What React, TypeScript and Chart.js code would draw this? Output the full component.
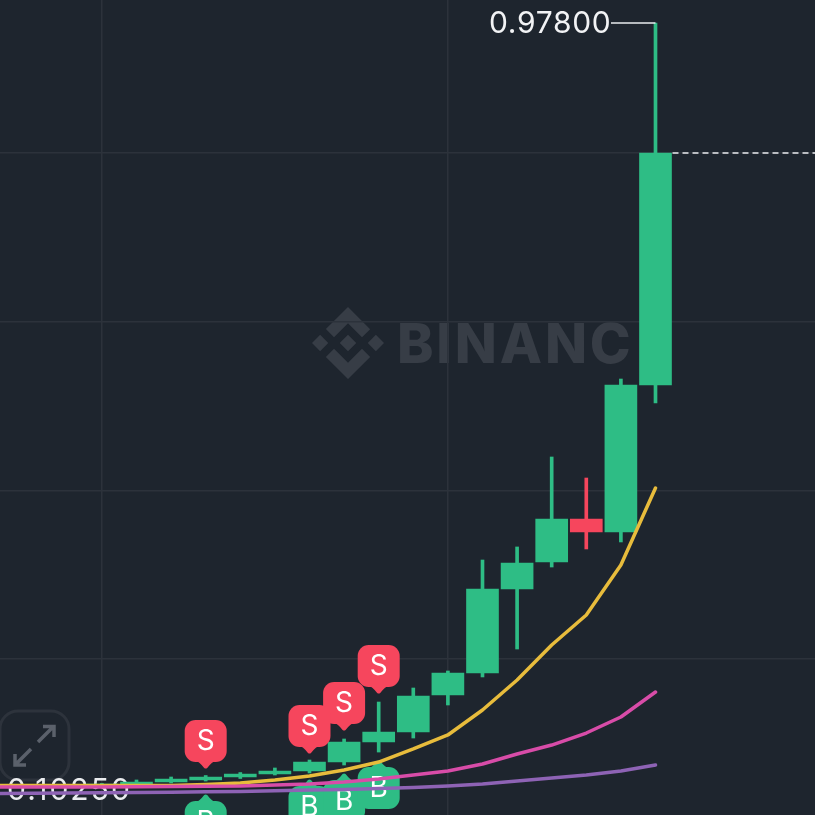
import React, { useEffect, useRef } from "react";
import { Chart, registerables } from "chart.js";

Chart.register(...registerables);

const candleIndex = [0, 1, 2, 3, 4, 5, 6, 7, 8, 9, 10, 11, 12, 13, 14, 15, 16];
const opens = [0.107, 0.1093, 0.1116, 0.1139, 0.1173, 0.1207, 0.1242, 0.1344, 0.1573, 0.1687, 0.2109, 0.236, 0.3319, 0.3627, 0.4118, 0.397, 0.5648];
const closes = [0.1093, 0.1116, 0.115, 0.1173, 0.1207, 0.1242, 0.1344, 0.1573, 0.1687, 0.2098, 0.236, 0.3319, 0.3616, 0.4118, 0.397, 0.5648, 0.8296];
const highs = [0.11, 0.1139, 0.1173, 0.119, 0.1224, 0.1276, 0.1367, 0.1607, 0.2029, 0.2189, 0.2383, 0.365, 0.3799, 0.4826, 0.4586, 0.5716, 0.978];
const lows = [0.106, 0.1082, 0.1105, 0.1127, 0.1156, 0.1196, 0.1219, 0.131, 0.1458, 0.1618, 0.1995, 0.2315, 0.2634, 0.357, 0.3776, 0.3856, 0.5442];

const maIndex = [-3, -2, -1, 0, 1, 2, 3, 4, 5, 6, 7, 8, 9, 10, 11, 12, 13, 14, 15, 16];
const maYellow = [0.1076, 0.1076, 0.1076, 0.1076, 0.1076, 0.1076, 0.1087, 0.1105, 0.1139, 0.1185, 0.1253, 0.1344, 0.1493, 0.1653, 0.1938, 0.228, 0.268, 0.3022, 0.3593, 0.4472];
const maPink = [0.1059, 0.1059, 0.1059, 0.1059, 0.1062, 0.1065, 0.1068, 0.107, 0.1082, 0.1093, 0.1116, 0.115, 0.1196, 0.1242, 0.1322, 0.1436, 0.1538, 0.1675, 0.1858, 0.2143];
const maPurple = [0.0985, 0.0988, 0.099, 0.0993, 0.0996, 0.1, 0.1004, 0.1008, 0.1015, 0.1025, 0.103, 0.1042, 0.1053, 0.107, 0.1093, 0.1127, 0.1162, 0.1196, 0.1242, 0.131];

const sellIndex = [8, 7, 6, 3];
const sellPrice = [0.2121, 0.1698, 0.1436, 0.1264];
const buyIndex = [3, 6, 7, 8];
const buyPrice = [0.0979, 0.115, 0.1219, 0.1367];

const gridPrices = [0.252, 0.4438, 0.6367, 0.8296];
const gridIndex = [0, 10];

const highLabel = "0.97800";
const lowLabel = "0.10250";
const lowPrice = 0.1025;
const watermark = "BINANC";

const BG = "#1E252E";
const GRID = "#2C323B";
const UP = "#2EBD85";
const DOWN = "#F6465D";
const WM = "#373D46";
const TEXT = "#EAECEF";
const FONT = "Inter, 'Noto Sans', sans-serif";

function marker(ctx: CanvasRenderingContext2D, x: number, tip: number, dir: number, color: string, letter: string) {
  // dir = 1: tip points down (box above tip); dir = -1: tip points up (box below tip)
  const w = 42, h = 42, r = 11, t = 7;
  const edge = tip - dir * t;
  const top = dir > 0 ? edge - h : edge;
  ctx.fillStyle = color;
  ctx.beginPath();
  ctx.roundRect(x - w / 2, top, w, h, r);
  ctx.fill();
  ctx.beginPath();
  ctx.moveTo(x - 11, edge - dir * 2);
  ctx.quadraticCurveTo(x - 6, edge, x - 1.5, tip - dir * 1);
  ctx.quadraticCurveTo(x, tip, x + 1.5, tip - dir * 1);
  ctx.quadraticCurveTo(x + 6, edge, x + 11, edge - dir * 2);
  ctx.closePath();
  ctx.fill();
  ctx.fillStyle = "#FFFFFF";
  ctx.font = `400 28px ${FONT}`;
  ctx.textAlign = "center";
  ctx.textBaseline = "middle";
  ctx.fillText(letter, x, top + h / 2 + 1);
}

const underlay = {
  id: "underlay",
  beforeDraw(chart: any) {
    const { ctx, width, height } = chart;
    ctx.save();
    ctx.fillStyle = BG;
    ctx.fillRect(0, 0, width, height);
    // watermark logo
    ctx.translate(312, 307);
    ctx.scale(0.5687, 0.5687);
    ctx.fillStyle = WM;
    ctx.fill(new Path2D("M38.73 53.2 63.31 28.62 87.9 53.21 102.2 38.91 63.31 0 24.43 38.9z"));
    ctx.fill(new Path2D("M0 63.31 14.3 49.01 28.6 63.31 14.3 77.61z"));
    ctx.fill(new Path2D("M38.73 73.42 63.31 98 87.9 73.41 102.21 87.7 63.31 126.61 24.43 87.72z"));
    ctx.fill(new Path2D("M112.31 49.01 126.61 63.31 112.31 77.61 98.01 63.31z"));
    ctx.fill(new Path2D("M77.81 63.3 63.31 48.8 52.6 59.52 51.36 60.75 48.82 63.3 63.31 77.78 77.81 63.31z"));
    ctx.restore();
    ctx.save();
    ctx.fillStyle = WM;
    ctx.font = `800 55px ${FONT}`;
    ctx.textAlign = "left";
    ctx.textBaseline = "alphabetic";
    (ctx as any).letterSpacing = "2.8px";
    ctx.fillText(watermark, 397, 363);
    ctx.restore();
  },
  beforeDatasetsDraw(chart: any) {
    const { ctx, scales } = chart;
    const { x, y } = scales;
    ctx.save();
    // expand button
    ctx.strokeStyle = "#2D333C";
    ctx.lineWidth = 3;
    ctx.beginPath();
    ctx.roundRect(0, 711, 69, 69, 18);
    ctx.stroke();
    ctx.strokeStyle = "#5B616B";
    ctx.lineWidth = 3.5;
    ctx.beginPath();
    ctx.moveTo(38, 742); ctx.lineTo(53.5, 726.5);
    ctx.moveTo(43, 726.5); ctx.lineTo(54, 726.5); ctx.lineTo(54, 737);
    ctx.moveTo(31, 749); ctx.lineTo(15.5, 764.5);
    ctx.moveTo(15, 754); ctx.lineTo(15, 765); ctx.lineTo(26, 765);
    ctx.stroke();
    // low label
    ctx.fillStyle = TEXT;
    ctx.font = `400 30px ${FONT}`;
    ctx.textAlign = "left";
    ctx.textBaseline = "middle";
    (ctx as any).letterSpacing = "2px";
    ctx.fillText(lowLabel, 7, y.getPixelForValue(lowPrice) + 1);
    (ctx as any).letterSpacing = "0px";
    // buy markers sit under the moving averages
    buyIndex.forEach((i, k) => marker(ctx, x.getPixelForValue(i), y.getPixelForValue(buyPrice[k]), -1, UP, "B"));
    ctx.restore();
  },
  afterDatasetsDraw(chart: any) {
    const { ctx, scales, width } = chart;
    const { x, y } = scales;
    ctx.save();
    sellIndex.forEach((i, k) => marker(ctx, x.getPixelForValue(i), y.getPixelForValue(sellPrice[k]), 1, DOWN, "S"));
    // high label and leader
    const last = candleIndex.length - 1;
    const hx = x.getPixelForValue(candleIndex[last]);
    const hy = y.getPixelForValue(highs[last]);
    ctx.strokeStyle = TEXT;
    ctx.lineWidth = 1.5;
    ctx.beginPath();
    ctx.moveTo(611, hy);
    ctx.lineTo(hx, hy);
    ctx.stroke();
    ctx.fillStyle = "#F2F3F5";
    ctx.font = `400 30px ${FONT}`;
    ctx.textAlign = "left";
    ctx.textBaseline = "middle";
    (ctx as any).letterSpacing = "0.7px";
    ctx.fillText(highLabel, 489, hy + 1);
    (ctx as any).letterSpacing = "0px";
    // last price dashed line
    const py = y.getPixelForValue(closes[last]);
    ctx.setLineDash([6, 4]);
    ctx.beginPath();
    ctx.moveTo(hx + 17, py);
    ctx.lineTo(width, py);
    ctx.stroke();
    ctx.restore();
  },
};

export default function App() {
  const ref = useRef<HTMLCanvasElement | null>(null);

  useEffect(() => {
    const colors = candleIndex.map((_, i) => (closes[i] >= opens[i] ? UP : DOWN));
    const maData = (vals: number[]) => maIndex.map((i, k) => ({ x: i, y: vals[k] }));
    const lineBase = { type: "line" as const, pointRadius: 0, borderWidth: 3.5, tension: 0, order: 1, borderJoinStyle: "round" as const, borderCapStyle: "round" as const };
    const chart = new Chart(ref.current!, {
      type: "bar",
      data: {
        datasets: [
          { ...lineBase, label: "MA3", borderColor: "#8E63B5", data: maData(maPurple) } as any,
          { ...lineBase, label: "MA2", borderColor: "#D84CA8", data: maData(maPink) } as any,
          { ...lineBase, label: "MA1", borderColor: "#E8BC3C", data: maData(maYellow) } as any,
          {
            type: "bar", label: "Body", order: 2, grouped: false, barThickness: 32,
            backgroundColor: colors,
            data: candleIndex.map((i, k) => ({ x: i, y: [opens[k], closes[k]] })),
          } as any,
          {
            type: "bar", label: "Wick", order: 3, grouped: false, barThickness: 3,
            backgroundColor: colors,
            data: candleIndex.map((i, k) => ({ x: i, y: [lows[k], highs[k]] })),
          } as any,
        ],
      },
      options: {
        responsive: false,
        animation: false,
        devicePixelRatio: 1,
        layout: { padding: 0 },
        plugins: { legend: { display: false }, tooltip: { enabled: false }, title: { display: false } },
        scales: {
          x: {
            type: "linear",
            min: -2.945,
            max: 20.61,
            offset: false,
            grid: { color: GRID, lineWidth: 1.5, drawTicks: false, offset: false },
            border: { display: false },
            ticks: { display: false },
            afterBuildTicks: (s: any) => { s.ticks = gridIndex.map((value) => ({ value })); },
          },
          y: {
            type: "linear",
            min: 0.07393,
            max: 1.00425,
            grid: { color: GRID, lineWidth: 1.5, drawTicks: false },
            border: { display: false },
            ticks: { display: false },
            afterBuildTicks: (s: any) => { s.ticks = gridPrices.map((value) => ({ value })); },
          },
        },
      },
      plugins: [underlay],
    } as any);
    return () => chart.destroy();
  }, []);

  return (
    <div style={{ position: "absolute", left: 0, top: 0, width: 815, height: 815 }}>
      <canvas ref={ref} width={815} height={815} style={{ display: "block" }} />
    </div>
  );
}
